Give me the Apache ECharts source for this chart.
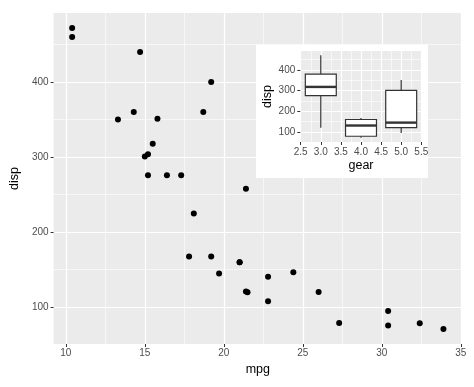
<!DOCTYPE html>
<html>
<head>
<meta charset="utf-8">
<script src="https://cdn.jsdelivr.net/npm/echarts@6/dist/echarts.min.js"></script>
<style>
html,body{margin:0;padding:0;background:#fff;}
#c{width:474px;height:387px;}
</style>
</head>
<body>
<div id="c"></div>
<script>
// mtcars: mpg vs disp
const mpg = [21.0,21.0,22.8,21.4,18.7,18.1,14.3,24.4,22.8,19.2,17.8,16.4,17.3,15.2,10.4,10.4,14.7,32.4,30.4,33.9,21.5,15.5,15.2,13.3,19.2,27.3,26.0,30.4,15.8,19.7,15.0,21.4];
const disp = [160,160,108,258,360,225,360,146.7,140.8,167.6,167.6,275.8,275.8,275.8,472,460,440,78.7,75.7,71.1,120.1,318,304,350,400,79,120.3,95.1,351,145,301,121];

// inset boxplot of disp by gear
const gears = [3, 4, 5];
const boxMin = [120.1, 71.1, 95.1];
const boxQ1 = [275.8, 78.9, 120.3];
const boxMedian = [318, 130.9, 145];
const boxQ3 = [380, 160, 301];
const boxMax = [472, 167.6, 351];

// tick labels
const xTicks = [10, 15, 20, 25, 30, 35];
const xMinor = [12.5, 17.5, 22.5, 27.5, 32.5];
const yTicks = [100, 200, 300, 400];
const yMinor = [150, 250, 350, 450];
const insetXTicks = [2.5, 3.0, 3.5, 4.0, 4.5, 5.0, 5.5];
const insetXMinor = [2.75, 3.25, 3.75, 4.25, 4.75, 5.25];
const insetYTicks = [100, 200, 300, 400];
const insetYMinor = [150, 250, 350, 450];

const FONT = "'Liberation Sans', Arial, Helvetica, sans-serif";
const BOX_W = 0.77;

function majorAxis(extra) {
  return Object.assign({
    type: 'value',
    axisLine: { show: false },
    axisTick: { show: true, length: 3, lineStyle: { color: '#333333', width: 1 } },
    axisLabel: { color: '#4D4D4D', fontSize: 10, fontFamily: FONT },
    splitLine: { show: true, lineStyle: { color: '#FFFFFF', width: 1.2 } },
    nameLocation: 'middle',
    nameTextStyle: { color: '#000', fontSize: 12.5, fontFamily: FONT }
  }, extra);
}
function minorAxis(extra) {
  return Object.assign({
    type: 'value',
    axisLine: { show: false },
    axisLabel: { show: false },
    splitLine: { show: true, lineStyle: { color: '#FFFFFF', width: 0.6 } }
  }, extra);
}

const fmt = v => (Math.round(v * 10) / 10).toFixed(1);

const option = {
  animation: false,
  backgroundColor: '#FFFFFF',
  graphic: [{
    type: 'rect', z: 5, silent: true,
    shape: { x: 256, y: 44.5, width: 172, height: 133.5 },
    style: { fill: '#FFFFFF' }
  }],
  grid: [
    { left: 50, top: 13, width: 412, height: 331, show: true, backgroundColor: '#EBEBEB', borderWidth: 0, z: 0 },
    { left: 300.3, top: 51, width: 121.4, height: 91, show: true, backgroundColor: '#EBEBEB', borderWidth: 0, z: 6 }
  ],
  xAxis: [
    majorAxis({ gridIndex: 0, min: 9.225, max: 35.075, name: 'mpg', nameGap: 18,
      axisTick: { show: true, length: 3, lineStyle: { color: '#333333', width: 1 }, customValues: xTicks },
      axisLabel: { color: '#4D4D4D', fontSize: 10, fontFamily: FONT, margin: 4, customValues: xTicks } }),
    minorAxis({ gridIndex: 0, min: 9.225, max: 35.075, position: 'bottom',
      axisTick: { show: false, customValues: xMinor } }),
    majorAxis({ gridIndex: 1, min: 2.49, max: 5.51, name: 'gear', nameGap: 17, z: 7,
      axisTick: { show: true, length: 3, lineStyle: { color: '#333333', width: 1 }, customValues: insetXTicks },
      axisLabel: { color: '#4D4D4D', fontSize: 10, fontFamily: FONT, margin: 5, customValues: insetXTicks, formatter: fmt } }),
    minorAxis({ gridIndex: 1, min: 2.49, max: 5.51, position: 'bottom', z: 7,
      splitLine: { show: true, lineStyle: { color: '#FFFFFF', width: 0.6 } },
      axisTick: { show: false, customValues: insetXMinor } })
  ],
  yAxis: [
    majorAxis({ gridIndex: 0, min: 51.055, max: 492.045, name: 'disp', nameGap: 26,
      axisTick: { show: true, length: 3, lineStyle: { color: '#333333', width: 1 }, customValues: yTicks },
      axisLabel: { color: '#4D4D4D', fontSize: 10, fontFamily: FONT, margin: 5, customValues: yTicks } }),
    minorAxis({ gridIndex: 0, min: 51.055, max: 492.045, position: 'left',
      axisTick: { show: false, customValues: yMinor } }),
    majorAxis({ gridIndex: 1, min: 51.055, max: 492.045, name: 'disp', nameGap: 26, z: 7,
      axisTick: { show: true, length: 3, lineStyle: { color: '#333333', width: 1 }, customValues: insetYTicks },
      axisLabel: { color: '#4D4D4D', fontSize: 10, fontFamily: FONT, margin: 5, customValues: insetYTicks } }),
    minorAxis({ gridIndex: 1, min: 51.055, max: 492.045, position: 'left', z: 7,
      axisTick: { show: false, customValues: insetYMinor } })
  ],
  series: [
    {
      type: 'scatter', xAxisIndex: 0, yAxisIndex: 0, z: 2,
      symbol: 'circle', symbolSize: 6,
      itemStyle: { color: '#000000', opacity: 1 },
      data: mpg.map((m, i) => [m, disp[i]])
    },
    {
      type: 'custom', xAxisIndex: 2, yAxisIndex: 2, z: 8,
      encode: { x: 0, y: [1, 2, 3, 4, 5] },
      data: gears.map((g, i) => [g, boxMin[i], boxQ1[i], boxMedian[i], boxQ3[i], boxMax[i]]),
      renderItem: function (params, api) {
        const x = api.value(0);
        const lo = api.coord([x, api.value(1)]);
        const q1 = api.coord([x, api.value(2)]);
        const md = api.coord([x, api.value(3)]);
        const q3 = api.coord([x, api.value(4)]);
        const hi = api.coord([x, api.value(5)]);
        const hw = api.size([BOX_W, 0])[0] / 2;
        const stroke = '#333333';
        return {
          type: 'group',
          children: [
            { type: 'line', shape: { x1: lo[0], y1: lo[1], x2: q1[0], y2: q1[1] }, style: { stroke: stroke, lineWidth: 1.2 } },
            { type: 'line', shape: { x1: q3[0], y1: q3[1], x2: hi[0], y2: hi[1] }, style: { stroke: stroke, lineWidth: 1.2 } },
            { type: 'rect', shape: { x: q3[0] - hw, y: q3[1], width: 2 * hw, height: q1[1] - q3[1] }, style: { fill: '#FFFFFF', stroke: stroke, lineWidth: 1.2 } },
            { type: 'line', shape: { x1: md[0] - hw, y1: md[1], x2: md[0] + hw, y2: md[1] }, style: { stroke: stroke, lineWidth: 2.4 } }
          ]
        };
      }
    }
  ]
};

const chart = echarts.init(document.getElementById('c'), null, { renderer: 'canvas' });
chart.setOption(option);
</script>
</body>
</html>
